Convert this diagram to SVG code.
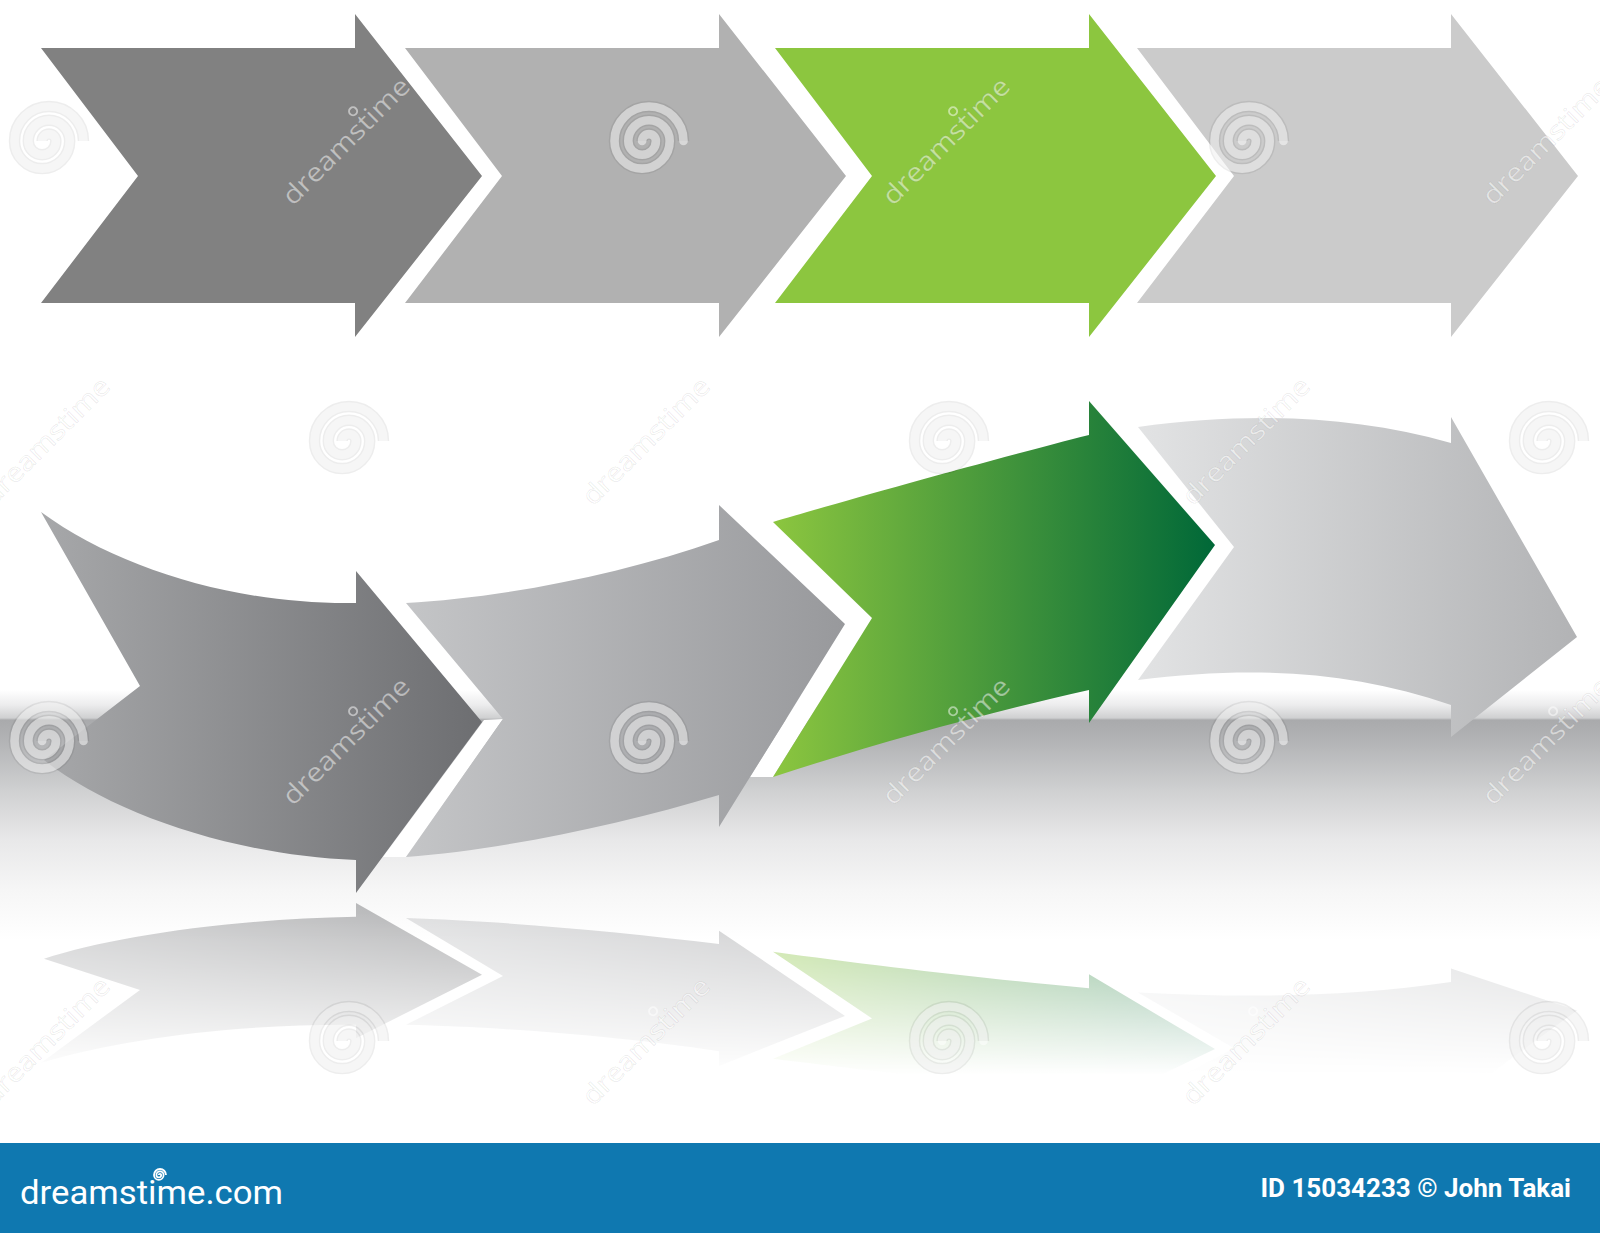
<svg xmlns="http://www.w3.org/2000/svg" xmlns:xlink="http://www.w3.org/1999/xlink" width="1600" height="1233" viewBox="0 0 1600 1233">
<defs>
<style>
.wm-sp-bg{fill:none;stroke:#000;stroke-opacity:0.07;stroke-width:10}
.wm-sp{fill:none;stroke:#fff;stroke-opacity:0.5;stroke-width:7.5;stroke-linecap:round}
.wm-t{font-family:"Open Sans","Liberation Sans",sans-serif;font-size:26px;fill:#fff;fill-opacity:0.5;stroke:#000;stroke-opacity:0.07;stroke-width:1}
.foot{fill:#fff;font-family:Roboto,"Liberation Sans",sans-serif}
</style>
<linearGradient id="floor" gradientUnits="userSpaceOnUse" x1="0" y1="680" x2="0" y2="1143">
<stop offset="0.0216" stop-color="#ffffff"/>
<stop offset="0.054" stop-color="#ececed"/>
<stop offset="0.082" stop-color="#cfd0d1"/>
<stop offset="0.0864" stop-color="#a9aaac"/>
<stop offset="0.1296" stop-color="#b2b3b5"/>
<stop offset="0.2376" stop-color="#cfd0d1"/>
<stop offset="0.3456" stop-color="#e8e8e9"/>
<stop offset="0.4536" stop-color="#f6f6f6"/>
<stop offset="0.5616" stop-color="#ffffff"/>
</linearGradient>
<linearGradient id="gA" gradientUnits="userSpaceOnUse" x1="41" y1="0" x2="482" y2="0">
<stop offset="0" stop-color="#a7a8aa"/><stop offset="1" stop-color="#6d6e71"/>
</linearGradient>
<linearGradient id="gB" gradientUnits="userSpaceOnUse" x1="406" y1="0" x2="845" y2="0">
<stop offset="0" stop-color="#c4c5c7"/><stop offset="1" stop-color="#98999c"/>
</linearGradient>
<linearGradient id="gC" gradientUnits="userSpaceOnUse" x1="773" y1="0" x2="1215" y2="0">
<stop offset="0" stop-color="#8cc63f"/><stop offset="1" stop-color="#006838"/>
</linearGradient>
<linearGradient id="gD" gradientUnits="userSpaceOnUse" x1="1138" y1="0" x2="1577" y2="0">
<stop offset="0" stop-color="#e2e3e4"/><stop offset="1" stop-color="#b2b3b5"/>
</linearGradient>
<linearGradient id="fadeG" gradientUnits="userSpaceOnUse" x1="0" y1="895" x2="0" y2="1075">
<stop offset="0" stop-color="#fff" stop-opacity="0.55"/>
<stop offset="1" stop-color="#fff" stop-opacity="0"/>
</linearGradient>
<mask id="fade" maskUnits="userSpaceOnUse" x="0" y="880" width="1600" height="260">
<rect x="0" y="880" width="1600" height="260" fill="url(#fadeG)"/>
</mask>
<path id="cA" d="M41,512 C120,570 240,605 356,603 L356,571 L482,722 L356,893 L356,860 C230,855 110,812 44,760 L140,686 Z"/>
<path id="cB" d="M406,603 C500,598 620,575 719,540 L719,505 L845,624 L719,827 L719,795 C620,825 500,850 406,857 L503,719 Z"/>
<path id="cC" d="M773,522 C830,505 990,460 1089,435 L1089,401 L1215,545 L1089,723 L1089,690 C990,712 870,745 773,777 L872,618 Z"/>
<path id="cD" d="M1138,427 C1250,412 1350,415 1451,443 L1451,417 L1577,637 L1451,737 L1451,705 C1350,670 1250,666 1138,680 L1234,547 Z"/>
<path id="sp" d="M-6,0 A6,6 0 0 1 6,0 A12,12 0 0 1 -18,0 A18,18 0 0 1 18,0 A24,24 0 0 1 -30,0 A30,30 0 0 1 30,0"/>
<g id="wmSpiral">
<use xlink:href="#sp" class="wm-sp-bg" transform="scale(1.15)"/>
<use xlink:href="#sp" class="wm-sp" transform="scale(1.15)"/>
</g>
<g id="wmText">
<text class="wm-t" x="0" y="9" text-anchor="middle" textLength="168" lengthAdjust="spacingAndGlyphs">dreamstime</text>
<circle cx="26" cy="-16" r="4" fill="none" stroke="#fff" stroke-opacity="0.5" stroke-width="2"/>
</g>
</defs>

<rect x="0" y="0" width="1600" height="1233" fill="#ffffff"/>
<rect id="floor-band" x="0" y="680" width="1600" height="463" fill="url(#floor)"/>

<!-- reflections -->
<g id="reflections" mask="url(#fade)">
<g transform="matrix(1,0,0,-0.42,0,1278)">
<use xlink:href="#cA" fill="url(#gA)"/>
<use xlink:href="#cB" fill="url(#gB)"/>
<use xlink:href="#cC" fill="url(#gC)"/>
<use xlink:href="#cD" fill="url(#gD)"/>
</g>
</g>

<!-- row 1: straight chevron arrows -->
<g id="arrow-1"><path d="M41,48 L355,48 L355,14 L482,176 L355,337 L355,303 L41,303 L138,176 Z" fill="#818181"/></g>
<g id="arrow-2"><path d="M405,48 L719,48 L719,14 L846,176 L719,337 L719,303 L405,303 L502,176 Z" fill="#b1b1b1"/></g>
<g id="arrow-3"><path d="M775,48 L1089,48 L1089,14 L1216,176 L1089,337 L1089,303 L775,303 L872,176 Z" fill="#8cc63f"/></g>
<g id="arrow-4"><path d="M1137,48 L1451,48 L1451,14 L1578,176 L1451,337 L1451,303 L1137,303 L1234,176 Z" fill="#cbcbcb"/></g>

<!-- white gaps over the floor -->
<g id="gaps" fill="#ffffff">
<polygon points="484,720 383,857 406,857 503,719"/>
<polygon points="847,622 750,777 773,777 872,618"/>
</g>

<!-- row 2: curved arrows -->
<g id="arrow-5"><use xlink:href="#cA" fill="url(#gA)"/></g>
<g id="arrow-6"><use xlink:href="#cB" fill="url(#gB)"/></g>
<g id="arrow-7"><use xlink:href="#cC" fill="url(#gC)"/></g>
<g id="arrow-8"><use xlink:href="#cD" fill="url(#gD)"/></g>

<!-- watermark -->
<g id="watermark">
<use xlink:href="#wmSpiral" x="49" y="141"/>
<use xlink:href="#wmSpiral" x="649" y="141"/>
<use xlink:href="#wmSpiral" x="1249" y="141"/>
<use xlink:href="#wmSpiral" x="349" y="441"/>
<use xlink:href="#wmSpiral" x="949" y="441"/>
<use xlink:href="#wmSpiral" x="1549" y="441"/>
<use xlink:href="#wmSpiral" x="49" y="741"/>
<use xlink:href="#wmSpiral" x="649" y="741"/>
<use xlink:href="#wmSpiral" x="1249" y="741"/>
<use xlink:href="#wmSpiral" x="349" y="1041"/>
<use xlink:href="#wmSpiral" x="949" y="1041"/>
<use xlink:href="#wmSpiral" x="1549" y="1041"/>
<use xlink:href="#wmText" transform="translate(346,141) rotate(-45)"/>
<use xlink:href="#wmText" transform="translate(946,141) rotate(-45)"/>
<use xlink:href="#wmText" transform="translate(1546,141) rotate(-45)"/>
<use xlink:href="#wmText" transform="translate(46,441) rotate(-45)"/>
<use xlink:href="#wmText" transform="translate(646,441) rotate(-45)"/>
<use xlink:href="#wmText" transform="translate(1246,441) rotate(-45)"/>
<use xlink:href="#wmText" transform="translate(346,741) rotate(-45)"/>
<use xlink:href="#wmText" transform="translate(946,741) rotate(-45)"/>
<use xlink:href="#wmText" transform="translate(1546,741) rotate(-45)"/>
<use xlink:href="#wmText" transform="translate(46,1041) rotate(-45)"/>
<use xlink:href="#wmText" transform="translate(646,1041) rotate(-45)"/>
<use xlink:href="#wmText" transform="translate(1246,1041) rotate(-45)"/>
</g>

<!-- footer -->
<g id="footer">
<rect x="0" y="1143" width="1600" height="90" fill="#0f78b0"/>
<text class="foot" x="20" y="1204" font-size="34" textLength="263" lengthAdjust="spacingAndGlyphs">dreamstime.com</text>
<g transform="translate(160,1175) scale(0.2)"><use xlink:href="#sp" fill="none" stroke="#fff" stroke-width="9"/></g>
<text class="foot" x="1571" y="1197" font-size="26" font-weight="bold" text-anchor="end">ID 15034233 © John Takai</text>
</g>
</svg>
